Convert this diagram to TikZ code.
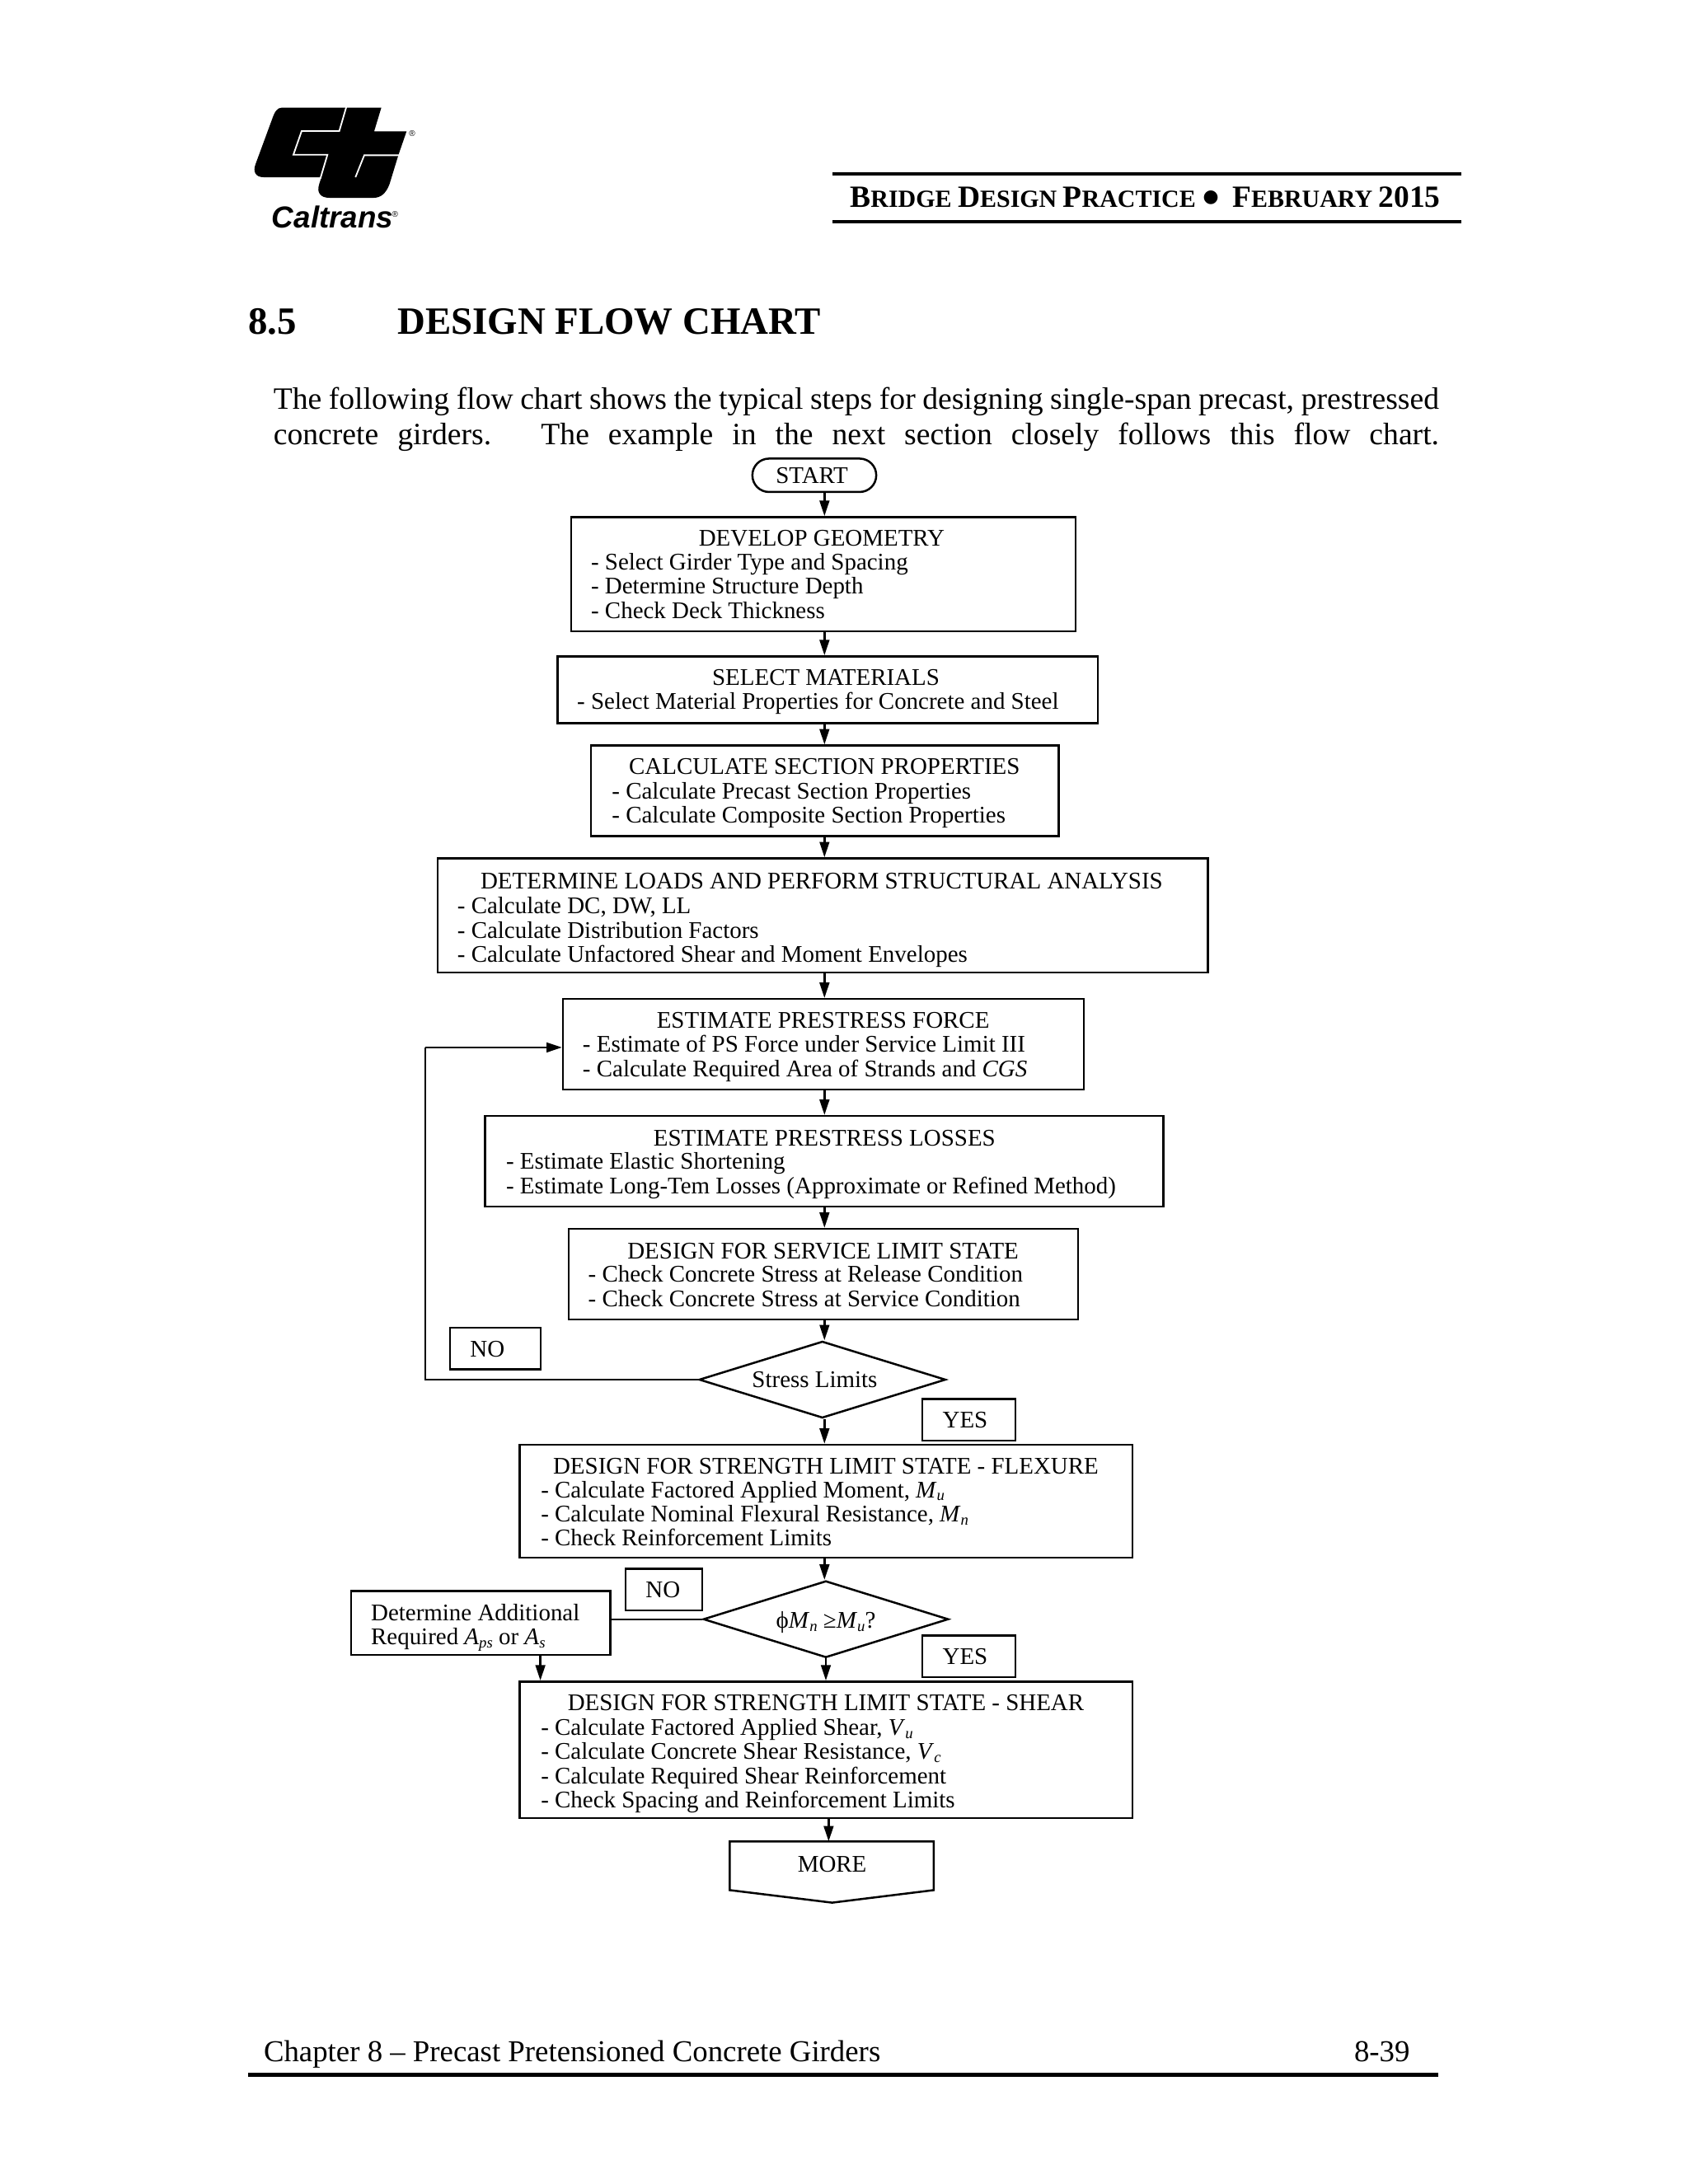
\documentclass[tikz,border=0pt]{standalone}
\usepackage{fontspec}
\setmainfont{Liberation Serif}
\newfontfamily\lsans{Liberation Sans}
\newfontfamily\djv{DejaVu Sans}
\usetikzlibrary{arrows.meta,shapes.geometric}
\newcommand{\subi}[1]{\raisebox{-1.1pt}{\fontsize{5.6}{6}\selectfont\textit{#1}}}
\newcommand{\smc}[2]{{\fontsize{11.2}{14}\selectfont\bfseries #1}{\fontsize{8.95}{14}\selectfont\bfseries #2}}
\tikzset{
  fc/.style={font=\fontsize{8.65}{8.8}\selectfont,inner sep=0pt,yshift=-0.5pt},
  ttl/.style={fc,anchor=base},
  lst/.style={fc,anchor=base west,align=left},
  bx/.style={draw=black,line width=0.75pt,inner sep=0pt,anchor=north west,xshift=-0.25pt,yshift=0.25pt},
  arr/.style={line width=0.75pt,-{Triangle[length=5.6pt,width=3.5pt]}},
  ln/.style={line width=0.6pt},
  dia/.style={draw=black,line width=0.75pt,diamond,aspect=3.2,inner sep=0pt},
  body/.style={font=\fontsize{11.25}{14}\selectfont,inner sep=0pt,anchor=base west},
  foot/.style={font=\fontsize{11}{14}\selectfont,inner sep=0pt,anchor=base west},
}
\begin{document}
\begin{tikzpicture}[x=0.50495pt,y=-0.50505pt]
\useasboundingbox (0,0) rectangle (1212,1568);
\fill[white] (0,0) rectangle (1212,1568);
\coordinate (axis) at (592,0);
% logo
\begin{scope}[shift={(165.7,59.2)},x=0.0996pt,y=-0.0996pt]
 \fill[black] (185,92) -- (548,92) -- (522,178) -- (640,178) -- (610,265) -- (578,370) .. controls (565,405) and (545,420) .. (520,420) -- (360,420) .. controls (325,420) and (312,400) .. (322,370) -- (330,345) -- (120,345) .. controls (90,345) and (80,325) .. (90,298) -- (150,135) .. controls (160,105) and (170,92) .. (185,92) -- cycle;
 \draw[white,line width=0.55pt] (421,88) -- (395,177) -- (258,177) -- (228,263) -- (352,263) -- (326,350);
 \draw[white,line width=0.55pt] (612,265) -- (486,265) -- (454,345);
 \node[font=\lsans\bfseries\itshape\fontsize{11}{12}\selectfont,inner sep=0pt,anchor=base west] (caltrans) at (148,528) {Caltrans};
 \node[font=\lsans\fontsize{3}{4}\selectfont,inner sep=0pt] (regA) at (660,186) {®};
 \node[font=\lsans\fontsize{3}{4}\selectfont,inner sep=0pt] (regB) at (598,481) {®};
\end{scope}
% header
\draw[line width=1.1pt] (598,125) -- (1049,125);
\draw[line width=1.1pt] (598,159) -- (1049,159);
\node[inner sep=0pt,anchor=base west] (hdr) at (610,149) {\smc{B}{RIDGE }\smc{D}{ESIGN }\smc{P}{RACTICE}\hspace{2.6pt}\raisebox{2pt}{\djv\fontsize{6.5}{10}\selectfont ●}\hspace{5pt}\smc{F}{EBRUARY }\smc{2015}{}};
\node[inner sep=0pt,anchor=base west,font=\bfseries\fontsize{14}{16}\selectfont] (secno) at (178,240) {8.5};
\node[inner sep=0pt,anchor=base west,font=\bfseries\fontsize{14}{16}\selectfont] (sectitle) at (285,240) {DESIGN FLOW CHART};
\node[body] (introa) at (196,294) {\makebox[422.6pt][s]{The following flow chart shows the typical steps for designing single-span precast, prestressed}};
\node[body] (introb) at (196,319) {\makebox[422.6pt][s]{concrete girders.\hspace{1.6em}The example in the next section closely follows this flow chart.}};
% boxes
\node[bx,rounded corners=6pt,minimum width=44.9pt,minimum height=12.1pt] (start) at (540,329) {};
\node[ttl] (startT) at (583,346) {START};
\node[bx,minimum width=182.8pt,minimum height=41.4pt] (geo) at (410,371) {};
\node[ttl] (geoT) at (590,391) {DEVELOP GEOMETRY};
\node[lst] (geoL) at (424,443) {- Select Girder Type and Spacing\\- Determine Structure Depth\\- Check Deck Thickness};
\node[bx,minimum width=195.9pt,minimum height=24.2pt] (mat) at (400,471) {};
\node[ttl] (matT) at (593,491) {SELECT MATERIALS};
\node[lst] (matL) at (414,508) {- Select Material Properties for Concrete and Steel};
\node[bx,minimum width=169.7pt,minimum height=32.8pt] (sec) at (424,535) {};
\node[ttl] (secT) at (592,555) {CALCULATE SECTION PROPERTIES};
\node[lst] (secL) at (439,590) {- Calculate Precast Section Properties\\- Calculate Composite Section Properties};
\node[bx,minimum width=279.2pt,minimum height=41.4pt] (loads) at (314,616) {};
\node[ttl] (loadsT) at (590,637) {DETERMINE LOADS AND PERFORM STRUCTURAL ANALYSIS};
\node[lst] (loadsL) at (328,690) {- Calculate DC, DW, LL\\- Calculate Distribution Factors\\- Calculate Unfactored Shear and Moment Envelopes};
\node[bx,minimum width=188.9pt,minimum height=32.8pt] (force) at (404,717) {};
\node[ttl] (forceT) at (591,737) {ESTIMATE PRESTRESS FORCE};
\node[lst] (forceL) at (418,772) {- Estimate of PS Force under Service Limit III\\- Calculate Required Area of Strands and \textit{CGS}};
\node[bx,minimum width=245.9pt,minimum height=32.8pt] (loss) at (348,801) {};
\node[ttl] (lossT) at (592,822) {ESTIMATE PRESTRESS LOSSES};
\node[lst] (lossL) at (363,856) {- Estimate Elastic Shortening\\- Estimate Long-Tem Losses (Approximate or Refined Method)};
\node[bx,minimum width=184.8pt,minimum height=32.8pt] (serv) at (408,882) {};
\node[ttl] (servT) at (591,903) {DESIGN FOR SERVICE LIMIT STATE};
\node[lst] (servL) at (422,937) {- Check Concrete Stress at Release Condition\\- Check Concrete Stress at Service Condition};
\node[bx,minimum width=32.8pt,minimum height=15.1pt] (noA) at (323,953) {};
\node[ttl] (noAT) at (350,973) {NO};
\node[dia,minimum width=89.4pt,minimum height=27.8pt] (stress) at (590.5,990.5) {};
\node[ttl] (stressT) at (585,995) {Stress Limits};
\node[bx,minimum width=33.8pt,minimum height=15.1pt] (yesA) at (662,1004) {};
\node[ttl] (yesAT) at (693,1024) {YES};
\node[bx,minimum width=222.2pt,minimum height=40.9pt] (flex) at (373,1037) {};
\node[ttl] (flexT) at (593,1057) {DESIGN FOR STRENGTH LIMIT STATE - FLEXURE};
\node[lst] (flexL) at (388,1109) {- Calculate Factored Applied Moment, \textit{M}\subi{u}\\- Calculate Nominal Flexural Resistance, \textit{M}\subi{n}\\- Check Reinforcement Limits};
\node[bx,minimum width=27.8pt,minimum height=15.1pt] (noB) at (449,1126) {};
\node[ttl] (noBT) at (476,1146) {NO};
\node[dia,minimum width=88.9pt,minimum height=27.8pt] (mom) at (593,1162.5) {};
\node[ttl] (momT) at (593,1168) {ϕ\textit{M}\subi{n} ≥\textit{M}\subi{u}?};
\node[bx,minimum width=33.8pt,minimum height=15.1pt] (yesB) at (662,1174) {};
\node[ttl] (yesBT) at (693,1194) {YES};
\node[bx,minimum width=93.9pt,minimum height=23.2pt] (add) at (252,1142) {};
\node[lst] (addL) at (266,1180) {Determine Additional\\Required \textit{A}\subi{ps} or \textit{A}\subi{s}};
\node[bx,minimum width=222.2pt,minimum height=49.5pt] (shear) at (373,1207) {};
\node[ttl] (shearT) at (593,1227) {DESIGN FOR STRENGTH LIMIT STATE - SHEAR};
\node[lst] (shearL) at (388,1297) {- Calculate Factored Applied Shear, \textit{V}\subi{u}\\- Calculate Concrete Shear Resistance, \textit{V}\subi{c}\\- Calculate Required Shear Reinforcement\\- Check Spacing and Reinforcement Limits};
\coordinate (moreTL) at (524,1322);
\coordinate (moreTR) at (670.5,1322);
\draw[line width=0.75pt] (moreTL) -- (moreTR) -- (670.5,1357) -- (597.5,1366) -- (524,1357) -- cycle;
\node[ttl] (moreT) at (597.5,1343) {MORE};
% connectors
\draw[arr] (axis |- start.south) -- (axis |- geo.north);
\draw[arr] (axis |- geo.south) -- (axis |- mat.north);
\draw[arr] (axis |- mat.south) -- (axis |- sec.north);
\draw[arr] (axis |- sec.south) -- (axis |- loads.north);
\draw[arr] (axis |- loads.south) -- (axis |- force.north);
\draw[arr] (axis |- force.south) -- (axis |- loss.north);
\draw[arr] (axis |- loss.south) -- (axis |- serv.north);
\draw[arr] (axis |- serv.south) -- (axis |- stress.north);
\draw[arr] (axis |- stress.south) -- (axis |- flex.north);
\coordinate (loopBL) at (305.5,990.5);
\coordinate (loopTL) at (305.5,752);
\draw[ln] (stress.west) -- (loopBL) -- (loopTL);
\draw[arr] (loopTL) -- (force.west |- loopTL);
\draw[arr] (axis |- flex.south) -- (axis |- mom.north);
\draw[arr] (mom.south) -- (mom.south |- shear.north);
\draw[ln] (mom.west) -- (add.east |- mom.west);
\coordinate (addx) at (388,0);
\draw[arr] (addx |- add.south) -- (addx |- shear.north);
\coordinate (morex) at (595,0);
\draw[arr] (morex |- shear.south) -- (morex |- moreTL);
% footer
\node[foot] (footL) at (189,1480) {Chapter 8 – Precast Pretensioned Concrete Girders};
\node[foot] (footR) at (972,1480) {8-39};
\draw[line width=1.6pt] (178,1489.5) -- (1033,1489.5);
\end{tikzpicture}
\end{document}
